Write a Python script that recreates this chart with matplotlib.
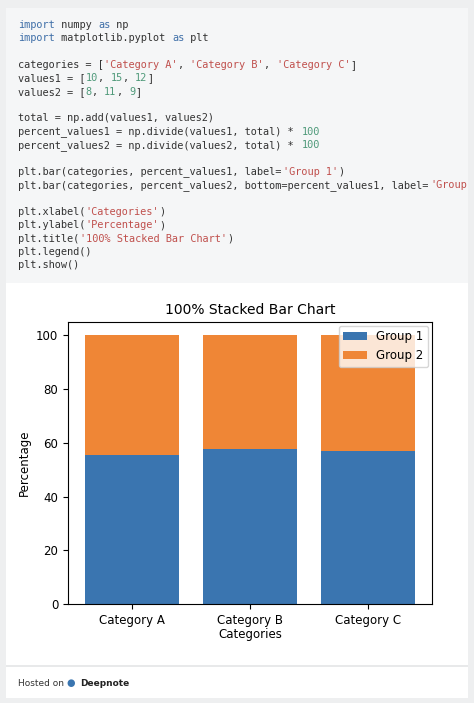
import matplotlib
matplotlib.use("Agg")
import matplotlib.pyplot as plt
import numpy as np
from matplotlib.patches import Rectangle

categories = ['Category A', 'Category B', 'Category C']
values1 = [10, 15, 12]
values2 = [8, 11, 9]

W, H = 474, 703
fig = plt.figure(figsize=(W/100, H/100), dpi=100)
fig.patch.set_facecolor('#eeeff0')

def px_rect(x, y, w, h, color, z=-10):
    fig.patches.append(Rectangle((x/W, 1-(y+h)/H), w/W, h/H, transform=fig.transFigure,
                                 facecolor=color, edgecolor='none', zorder=z))

px_rect(6, 8, 462, 690, '#ffffff')
px_rect(6, 8, 462, 275, '#f5f6f7')
px_rect(6, 665, 462, 2, '#e8e9ea')

K, S, N, T = '#3f6fa8', '#c0504d', '#4f9a7a', '#333333'
code = [
    [('import', K), (' numpy ', T), ('as', K), (' np', T)],
    [('import', K), (' matplotlib.pyplot ', T), ('as', K), (' plt', T)],
    [],
    [('categories = [', T), ("'Category A'", S), (', ', T), ("'Category B'", S), (', ', T), ("'Category C'", S), (']', T)],
    [('values1 = [', T), ('10', N), (', ', T), ('15', N), (', ', T), ('12', N), (']', T)],
    [('values2 = [', T), ('8', N), (', ', T), ('11', N), (', ', T), ('9', N), (']', T)],
    [],
    [('total = np.add(values1, values2)', T)],
    [('percent_values1 = np.divide(values1, total) * ', T), ('100', N)],
    [('percent_values2 = np.divide(values2, total) * ', T), ('100', N)],
    [],
    [('plt.bar(categories, percent_values1, label=', T), ("'Group 1'", S), (')', T)],
    [('plt.bar(categories, percent_values2, bottom=percent_values1, label=', T), ("'Group", S)],
    [],
    [('plt.xlabel(', T), ("'Categories'", S), (')', T)],
    [('plt.ylabel(', T), ("'Percentage'", S), (')', T)],
    [('plt.title(', T), ("'100% Stacked Bar Chart'", S), (')', T)],
    [('plt.legend()', T)],
    [('plt.show()', T)],
]
cw = 6.16
for i, line in enumerate(code):
    y = 25 + i * 13.35
    col = 0
    for txt, c in line:
        fig.text((18 + col*cw)/W, 1 - y/H, txt, color=c, family='DejaVu Sans Mono',
                 fontsize=7.4, va='center', ha='left')
        col += len(txt)

ax = fig.add_axes([68/W, 1-604/H, 364/W, 282/H])
ax.set_zorder(5)
total = np.add(values1, values2)
p1 = np.divide(values1, total) * 100
p2 = np.divide(values2, total) * 100
ax.bar(categories, p1, label='Group 1', color='#3a75b0')
ax.bar(categories, p2, bottom=p1, label='Group 2', color='#ef8636')
ax.set_xlabel('Categories', fontsize=8.5, labelpad=1)
ax.set_ylabel('Percentage', fontsize=8.5)
ax.set_title('100% Stacked Bar Chart', fontsize=10, pad=6)
ax.tick_params(labelsize=8.5)
ax.legend(fontsize=8.5, loc='upper right', borderaxespad=0.3)

fig.text(18/W, 1-683/H, 'Hosted on', fontsize=6.5, color='#333333', va='center')
fig.text(66/W, 1-683/H, '●', fontsize=7, color='#3a75b0', va='center')
fig.text(80/W, 1-683/H, 'Deepnote', fontsize=6.5, color='#222222', va='center', weight='bold')

fig.savefig('out.png', dpi=100, facecolor=fig.get_facecolor())
